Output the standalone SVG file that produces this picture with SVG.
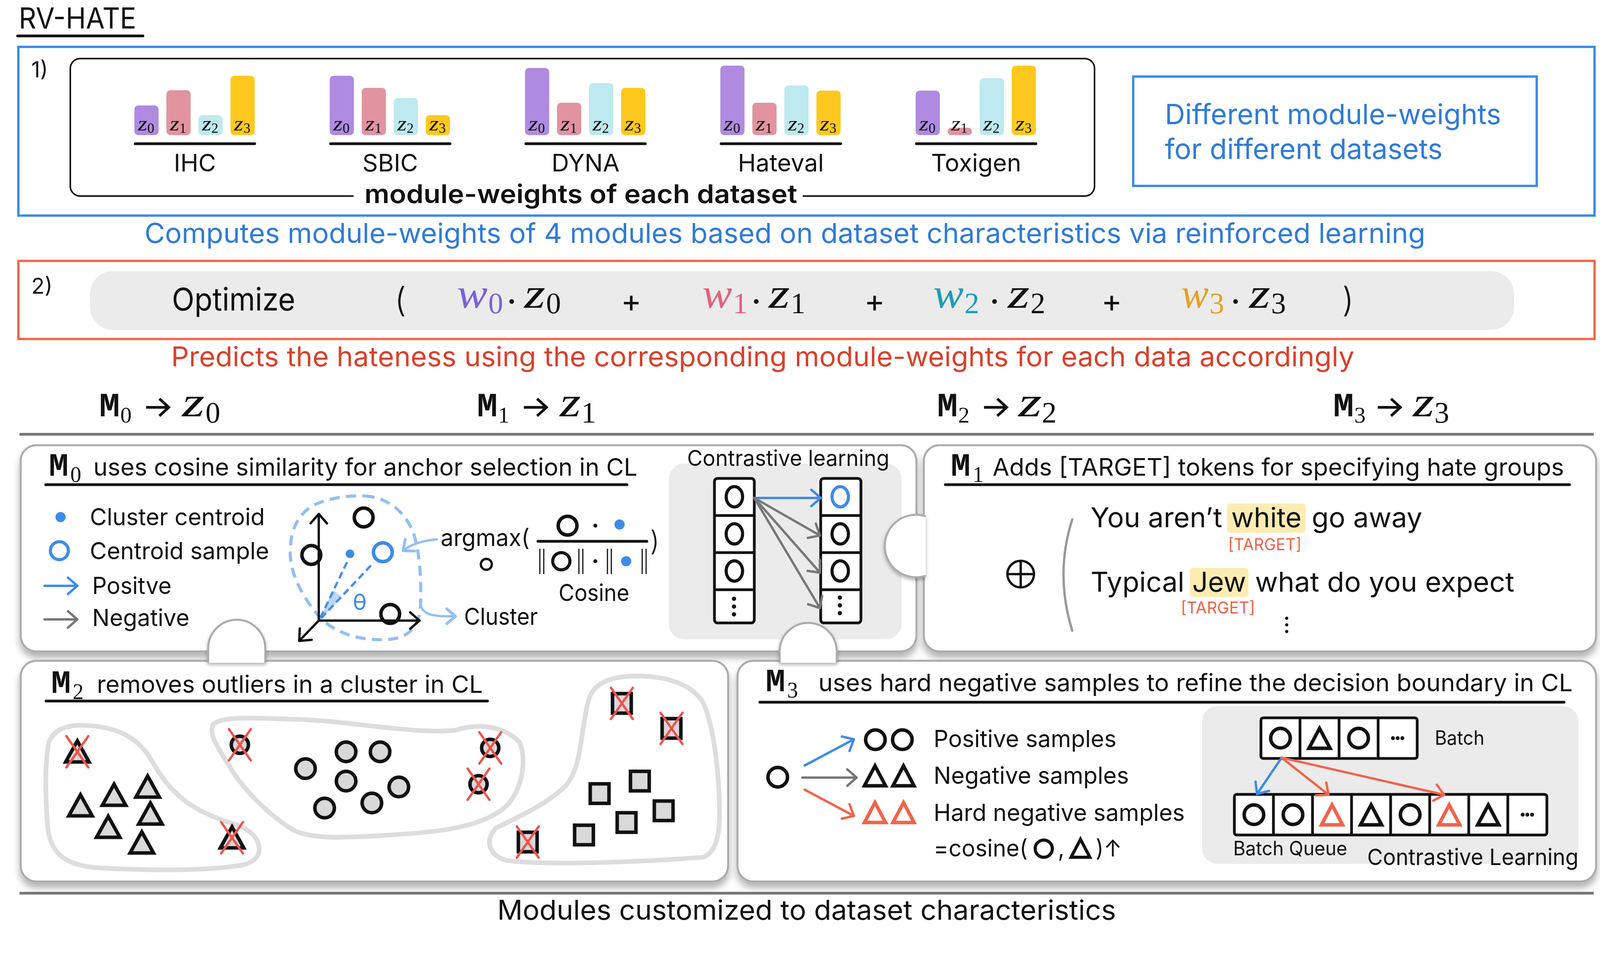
<svg xmlns="http://www.w3.org/2000/svg" width="4140" height="2476" viewBox="0 0 4140 2476">
<style>
.t{font-family:Inter,'Liberation Sans',sans-serif;fill:#111}
.mi{font-family:'Liberation Serif',serif;font-style:italic;fill:#111}
.mr{font-family:'Liberation Serif',serif;fill:#111}
.tt{font-family:'Liberation Mono',monospace;font-weight:bold;fill:#111}
.panel{fill:#fff;stroke:#ABABAB;stroke-width:5}
.ring{fill:#fff;stroke:#111;stroke-width:9}
.gshape{fill:#D9D9D9;stroke:#111;stroke-width:9;stroke-linejoin:miter}
.wtri{fill:#fff;stroke:#111;stroke-width:9}
.rtri{fill:#fff;stroke:#F0644B;stroke-width:9}
.x{stroke:#F0524F;stroke-width:6;stroke-linecap:round;fill:none}
.ul{stroke:#111;stroke-width:7;stroke-linecap:round}
.b0{fill:#AE8BE0}.b1{fill:#E194A0}.b2{fill:#BEE9EE}.b3{fill:#FEC81F}
.cell{fill:#fff;stroke:#111;stroke-width:7}
.conn{fill:none;stroke-width:6;stroke-linecap:round}
</style>
<defs>
<filter id="sh" x="-5%" y="-10%" width="110%" height="130%">
<feDropShadow dx="0" dy="14" stdDeviation="9" flood-color="#000" flood-opacity="0.3"/>
</filter>
<filter id="sh2" x="-30%" y="-30%" width="160%" height="160%">
<feDropShadow dx="0" dy="5" stdDeviation="5" flood-color="#000" flood-opacity="0.3"/>
</filter>
<marker id="hb" markerUnits="userSpaceOnUse" markerWidth="10" markerHeight="10" refX="0" refY="0" orient="auto" overflow="visible"><path d="M-24,-21 L0,0 L-24,21" fill="none" stroke="#3D8BE8" stroke-width="6" stroke-linecap="round" stroke-linejoin="round"/></marker>
<marker id="hg" markerUnits="userSpaceOnUse" markerWidth="10" markerHeight="10" refX="0" refY="0" orient="auto" overflow="visible"><path d="M-24,-21 L0,0 L-24,21" fill="none" stroke="#777" stroke-width="6" stroke-linecap="round" stroke-linejoin="round"/></marker>
<marker id="hr" markerUnits="userSpaceOnUse" markerWidth="10" markerHeight="10" refX="0" refY="0" orient="auto" overflow="visible"><path d="M-24,-21 L0,0 L-24,21" fill="none" stroke="#F0644B" stroke-width="6" stroke-linecap="round" stroke-linejoin="round"/></marker>
<marker id="hk" markerUnits="userSpaceOnUse" markerWidth="10" markerHeight="10" refX="0" refY="0" orient="auto" overflow="visible"><path d="M-24,-21 L0,0 L-24,21" fill="none" stroke="#111" stroke-width="6" stroke-linecap="round" stroke-linejoin="round"/></marker>
<marker id="hl" markerUnits="userSpaceOnUse" markerWidth="10" markerHeight="10" refX="0" refY="0" orient="auto" overflow="visible"><path d="M-22,-19 L0,0 L-22,19" fill="none" stroke="#93BFF2" stroke-width="7" stroke-linecap="round" stroke-linejoin="round"/></marker>
<path id="tri" d="M0,-30 L30,24 L-30,24 Z"/>
<path id="tri2" d="M0,-27 L27,24 L-27,24 Z"/>
<rect id="sq" x="-24" y="-25" width="48" height="50"/>
<path id="xm" d="M-28,-40 L28,40 M28,-40 L-28,40"/>
</defs>

<rect width="4140" height="2476" fill="#fff"/>

<g id="title">
<text class="t" x="48" y="73" font-size="74" textLength="301" lengthAdjust="spacingAndGlyphs">RV-HATE</text>
<line x1="45" y1="92" x2="366" y2="92" class="ul"/>
</g>

<g id="stage1">
<rect x="47" y="120" width="4035" height="432" fill="none" stroke="#3D8BE8" stroke-width="6"/>
<text class="t" x="80" y="198" font-size="56">1)</text>
<path d="M 905 502 L 205 502 A 25 25 0 0 1 180 477 L 180 175 A 25 25 0 0 1 205 150 L 2777 150 A 25 25 0 0 1 2802 175 L 2802 477 A 25 25 0 0 1 2777 502 L 2055 502" fill="none" stroke="#111" stroke-width="4"/>
<text class="t" x="933" y="520" font-size="66" font-weight="600" textLength="1108" lengthAdjust="spacingAndGlyphs">module-weights of each dataset</text>

<g id="bars-ihc">
<rect class="b0" x="344" y="270" width="62" height="76" rx="10"/>
<rect class="b1" x="426" y="231" width="62" height="115" rx="10"/>
<rect class="b2" x="508" y="295" width="62" height="51" rx="10"/>
<rect class="b3" x="590" y="194" width="62" height="152" rx="10"/>
<text class="mi" x="353" y="334" font-size="52" textLength="24" lengthAdjust="spacingAndGlyphs">z</text><text class="mr" x="377" y="340" font-size="36">0</text>
<text class="mi" x="435" y="334" font-size="52" textLength="24" lengthAdjust="spacingAndGlyphs">z</text><text class="mr" x="459" y="340" font-size="36">1</text>
<text class="mi" x="517" y="334" font-size="52" textLength="24" lengthAdjust="spacingAndGlyphs">z</text><text class="mr" x="541" y="340" font-size="36">2</text>
<text class="mi" x="599" y="334" font-size="52" textLength="24" lengthAdjust="spacingAndGlyphs">z</text><text class="mr" x="623" y="340" font-size="36">3</text>
<line x1="346" y1="368" x2="652" y2="368" class="ul"/>
<text class="t" x="499" y="439" font-size="62" text-anchor="middle">IHC</text>
</g>
<g id="bars-sbic">
<rect class="b0" x="844" y="194" width="62" height="152" rx="10"/>
<rect class="b1" x="926" y="225" width="62" height="121" rx="10"/>
<rect class="b2" x="1008" y="251" width="62" height="95" rx="10"/>
<rect class="b3" x="1090" y="295" width="62" height="51" rx="10"/>
<text class="mi" x="853" y="334" font-size="52" textLength="24" lengthAdjust="spacingAndGlyphs">z</text><text class="mr" x="877" y="340" font-size="36">0</text>
<text class="mi" x="935" y="334" font-size="52" textLength="24" lengthAdjust="spacingAndGlyphs">z</text><text class="mr" x="959" y="340" font-size="36">1</text>
<text class="mi" x="1017" y="334" font-size="52" textLength="24" lengthAdjust="spacingAndGlyphs">z</text><text class="mr" x="1041" y="340" font-size="36">2</text>
<text class="mi" x="1099" y="334" font-size="52" textLength="24" lengthAdjust="spacingAndGlyphs">z</text><text class="mr" x="1123" y="340" font-size="36">3</text>
<line x1="846" y1="368" x2="1152" y2="368" class="ul"/>
<text class="t" x="999" y="439" font-size="62" text-anchor="middle">SBIC</text>
</g>
<g id="bars-dyna">
<rect class="b0" x="1344" y="174" width="62" height="172" rx="10"/>
<rect class="b1" x="1426" y="263" width="62" height="83" rx="10"/>
<rect class="b2" x="1508" y="213" width="62" height="133" rx="10"/>
<rect class="b3" x="1590" y="225" width="62" height="121" rx="10"/>
<text class="mi" x="1353" y="334" font-size="52" textLength="24" lengthAdjust="spacingAndGlyphs">z</text><text class="mr" x="1377" y="340" font-size="36">0</text>
<text class="mi" x="1435" y="334" font-size="52" textLength="24" lengthAdjust="spacingAndGlyphs">z</text><text class="mr" x="1459" y="340" font-size="36">1</text>
<text class="mi" x="1517" y="334" font-size="52" textLength="24" lengthAdjust="spacingAndGlyphs">z</text><text class="mr" x="1541" y="340" font-size="36">2</text>
<text class="mi" x="1599" y="334" font-size="52" textLength="24" lengthAdjust="spacingAndGlyphs">z</text><text class="mr" x="1623" y="340" font-size="36">3</text>
<line x1="1346" y1="368" x2="1652" y2="368" class="ul"/>
<text class="t" x="1499" y="439" font-size="62" text-anchor="middle">DYNA</text>
</g>
<g id="bars-hateval">
<rect class="b0" x="1844" y="168" width="62" height="178" rx="10"/>
<rect class="b1" x="1926" y="263" width="62" height="83" rx="10"/>
<rect class="b2" x="2008" y="219" width="62" height="127" rx="10"/>
<rect class="b3" x="2090" y="232" width="62" height="114" rx="10"/>
<text class="mi" x="1853" y="334" font-size="52" textLength="24" lengthAdjust="spacingAndGlyphs">z</text><text class="mr" x="1877" y="340" font-size="36">0</text>
<text class="mi" x="1935" y="334" font-size="52" textLength="24" lengthAdjust="spacingAndGlyphs">z</text><text class="mr" x="1959" y="340" font-size="36">1</text>
<text class="mi" x="2017" y="334" font-size="52" textLength="24" lengthAdjust="spacingAndGlyphs">z</text><text class="mr" x="2041" y="340" font-size="36">2</text>
<text class="mi" x="2099" y="334" font-size="52" textLength="24" lengthAdjust="spacingAndGlyphs">z</text><text class="mr" x="2123" y="340" font-size="36">3</text>
<line x1="1846" y1="368" x2="2152" y2="368" class="ul"/>
<text class="t" x="1999" y="439" font-size="62" text-anchor="middle">Hateval</text>
</g>
<g id="bars-toxigen">
<rect class="b0" x="2344" y="232" width="62" height="114" rx="10"/>
<rect class="b1" x="2426" y="327" width="62" height="19" rx="9"/>
<rect class="b2" x="2508" y="200" width="62" height="146" rx="10"/>
<rect class="b3" x="2590" y="168" width="62" height="178" rx="10"/>
<text class="mi" x="2353" y="334" font-size="52" textLength="24" lengthAdjust="spacingAndGlyphs">z</text><text class="mr" x="2377" y="340" font-size="36">0</text>
<text class="mi" x="2435" y="334" font-size="52" textLength="24" lengthAdjust="spacingAndGlyphs">z</text><text class="mr" x="2459" y="340" font-size="36">1</text>
<text class="mi" x="2517" y="334" font-size="52" textLength="24" lengthAdjust="spacingAndGlyphs">z</text><text class="mr" x="2541" y="340" font-size="36">2</text>
<text class="mi" x="2599" y="334" font-size="52" textLength="24" lengthAdjust="spacingAndGlyphs">z</text><text class="mr" x="2623" y="340" font-size="36">3</text>
<line x1="2346" y1="368" x2="2652" y2="368" class="ul"/>
<text class="t" x="2499" y="439" font-size="62" text-anchor="middle">Toxigen</text>
</g>

<g id="weights-note">
<rect x="2901" y="196" width="1033" height="280" fill="none" stroke="#3D8BE8" stroke-width="6"/>
<text class="t" x="2982" y="318" font-size="72" style="fill:#2F7BD7" textLength="861" lengthAdjust="spacingAndGlyphs">Different module-weights</text>
<text class="t" x="2982" y="407" font-size="72" style="fill:#2F7BD7" textLength="711" lengthAdjust="spacingAndGlyphs">for different datasets</text>
</g>
<text class="t" x="370" y="622" font-size="70" style="fill:#2F7BD7" textLength="3279" lengthAdjust="spacingAndGlyphs">Computes module-weights of 4 modules based on dataset characteristics via reinforced learning</text>
</g>

<g id="stage2">
<rect x="47" y="668" width="4035" height="200" fill="none" stroke="#F26A4B" stroke-width="6"/>
<rect x="230" y="694" width="3646" height="151" rx="60" fill="#EBEBEB"/>
<text class="t" x="80" y="752" font-size="56">2)</text>
<text class="t" x="440" y="795" font-size="80" textLength="316" lengthAdjust="spacingAndGlyphs">Optimize</text>
<text class="t" x="1010" y="798" font-size="86" font-weight="300">(</text>
<text class="t" x="3436" y="798" font-size="86" font-weight="300">)</text>
<g id="term0">
<text class="mi" x="1170" y="788" font-size="108" style="fill:#7B61D9" textLength="78" lengthAdjust="spacingAndGlyphs">w</text>
<text class="mr" x="1250" y="802" font-size="76" style="fill:#7B61D9">0</text>
<circle cx="1310" cy="772" r="6" fill="#111"/>
<text class="mi" x="1342" y="788" font-size="108" textLength="54" lengthAdjust="spacingAndGlyphs">z</text>
<text class="mr" x="1398" y="802" font-size="76">0</text>
</g>
<text class="t" x="1616" y="799" font-size="80" text-anchor="middle">+</text>
<g id="term1">
<text class="mi" x="1798" y="788" font-size="108" style="fill:#E0627F" textLength="76" lengthAdjust="spacingAndGlyphs">w</text>
<text class="mr" x="1876" y="802" font-size="76" style="fill:#E0627F">1</text>
<circle cx="1936" cy="772" r="6" fill="#111"/>
<text class="mi" x="1968" y="788" font-size="108" textLength="54" lengthAdjust="spacingAndGlyphs">z</text>
<text class="mr" x="2024" y="802" font-size="76">1</text>
</g>
<text class="t" x="2239" y="799" font-size="80" text-anchor="middle">+</text>
<g id="term2">
<text class="mi" x="2389" y="788" font-size="108" style="fill:#1A9EB4" textLength="78" lengthAdjust="spacingAndGlyphs">w</text>
<text class="mr" x="2469" y="802" font-size="76" style="fill:#1A9EB4">2</text>
<circle cx="2546" cy="772" r="6" fill="#111"/>
<text class="mi" x="2580" y="788" font-size="108" textLength="56" lengthAdjust="spacingAndGlyphs">z</text>
<text class="mr" x="2638" y="802" font-size="76">2</text>
</g>
<text class="t" x="2846" y="799" font-size="80" text-anchor="middle">+</text>
<g id="term3">
<text class="mi" x="3024" y="788" font-size="108" style="fill:#E5A024" textLength="70" lengthAdjust="spacingAndGlyphs">w</text>
<text class="mr" x="3096" y="802" font-size="76" style="fill:#E5A024">3</text>
<circle cx="3163" cy="772" r="6" fill="#111"/>
<text class="mi" x="3198" y="788" font-size="108" textLength="54" lengthAdjust="spacingAndGlyphs">z</text>
<text class="mr" x="3254" y="802" font-size="76">3</text>
</g>
<text class="t" x="438" y="938" font-size="70" style="fill:#D9412B" textLength="3029" lengthAdjust="spacingAndGlyphs">Predicts the hateness using the corresponding module-weights for each data accordingly</text>
</g>

<g id="module-row">
<text class="tt" x="254" y="1066" font-size="88">M</text><text class="mr" x="308" y="1082" font-size="58">0</text>
<path d="M 374 1043 H 430 M 408 1021 L 432 1043 L 408 1065" stroke="#111" stroke-width="7" fill="none"/>
<text class="mi" x="466" y="1066" font-size="108" textLength="58" lengthAdjust="spacingAndGlyphs">z</text><text class="mr" x="526" y="1082" font-size="76">0</text>

<text class="tt" x="1221" y="1066" font-size="88">M</text><text class="mr" x="1275" y="1082" font-size="58">1</text>
<path d="M 1341 1043 H 1397 M 1375 1021 L 1399 1043 L 1375 1065" stroke="#111" stroke-width="7" fill="none"/>
<text class="mi" x="1433" y="1066" font-size="108" textLength="54" lengthAdjust="spacingAndGlyphs">z</text><text class="mr" x="1488" y="1082" font-size="76">1</text>

<text class="tt" x="2399" y="1066" font-size="88">M</text><text class="mr" x="2453" y="1082" font-size="58">2</text>
<path d="M 2519 1043 H 2575 M 2553 1021 L 2577 1043 L 2553 1065" stroke="#111" stroke-width="7" fill="none"/>
<text class="mi" x="2607" y="1066" font-size="108" textLength="60" lengthAdjust="spacingAndGlyphs">z</text><text class="mr" x="2667" y="1082" font-size="76">2</text>

<text class="tt" x="3413" y="1066" font-size="88">M</text><text class="mr" x="3467" y="1082" font-size="58">3</text>
<path d="M 3527 1043 H 3583 M 3561 1021 L 3585 1043 L 3561 1065" stroke="#111" stroke-width="7" fill="none"/>
<text class="mi" x="3617" y="1066" font-size="108" textLength="55" lengthAdjust="spacingAndGlyphs">z</text><text class="mr" x="3672" y="1082" font-size="76">3</text>
</g>

<line x1="50" y1="1112" x2="4080" y2="1112" stroke="#777" stroke-width="7"/>
<line x1="50" y1="2287" x2="4080" y2="2287" stroke="#777" stroke-width="7"/>

<g id="panels" filter="url(#sh)">
<rect class="panel" x="53" y="1140" width="2293" height="528" rx="40"/>
<rect class="panel" x="2365" y="1140" width="1721" height="528" rx="40"/>
<rect class="panel" x="53" y="1692" width="1811" height="565" rx="40"/>
<rect class="panel" x="1888" y="1692" width="2198" height="565" rx="40"/>
</g>
<rect x="1712" y="1187" width="596" height="450" rx="40" fill="#EBEBEB"/>
<g id="tabs" filter="url(#sh2)">
<path class="panel" d="M 2370 1322 A 80 80 0 1 0 2370 1474"/>
<path class="panel" d="M 533 1697 L 533 1660 A 73 73 0 0 1 679 1660 L 679 1697"/>
<path class="panel" d="M 1996 1697 L 1996 1668 A 73 73 0 0 1 2142 1668 L 2142 1697"/>
</g>

<g id="m0-panel">
<text class="tt" x="125" y="1218" font-size="84">M</text><text class="mr" x="180" y="1234" font-size="56">0</text>
<text class="t" x="239" y="1218" font-size="62" textLength="1393" lengthAdjust="spacingAndGlyphs">uses cosine similarity for anchor selection in CL</text>
<line x1="117" y1="1241" x2="1605" y2="1241" class="ul"/>
<circle cx="155" cy="1324" r="13" fill="#3D8BE8"/>
<text class="t" x="230" y="1345" font-size="60" textLength="448" lengthAdjust="spacingAndGlyphs">Cluster centroid</text>
<circle cx="152" cy="1410" r="23" fill="none" stroke="#3D8BE8" stroke-width="8"/>
<text class="t" x="230" y="1432" font-size="60" textLength="459" lengthAdjust="spacingAndGlyphs">Centroid sample</text>
<text class="t" x="236" y="1521" font-size="60" textLength="203" lengthAdjust="spacingAndGlyphs">Positve</text>
<text class="t" x="236" y="1603" font-size="60" textLength="249" lengthAdjust="spacingAndGlyphs">Negative</text>
<path d="M 816 1589 L 876 1530 A 85 85 0 0 0 852 1512 Z" fill="#BCD6F7"/>
<path d="M 933 1270 C 990 1272 1040 1310 1060 1370 C 1075 1420 1078 1480 1077 1540 C 1077 1600 1050 1636 985 1638 C 900 1640 840 1610 810 1570 C 770 1520 745 1470 743 1420 C 742 1360 760 1320 800 1295 C 840 1275 890 1268 933 1270 Z" fill="none" stroke="#93BFF2" stroke-width="8" stroke-dasharray="26 16"/>
<line x1="820" y1="1582" x2="892" y2="1432" stroke="#4A8FE7" stroke-width="6" stroke-dasharray="18 10"/>
<line x1="822" y1="1583" x2="957" y2="1440" stroke="#4A8FE7" stroke-width="6" stroke-dasharray="18 10"/>
<text class="t" x="921" y="1562" font-size="58" text-anchor="middle" style="fill:#3D8BE8">θ</text>
<circle class="ring" cx="931" cy="1325" r="24"/>
<circle class="ring" cx="797" cy="1421" r="24"/>
<circle class="ring" cx="999" cy="1572" r="24"/>
<circle cx="896" cy="1418" r="11" fill="#3D8BE8"/>
<circle cx="980" cy="1414" r="24" fill="#fff" stroke="#3D8BE8" stroke-width="9"/>
<text class="t" x="1128" y="1398" font-size="60" textLength="228" lengthAdjust="spacingAndGlyphs">argmax(</text>
<circle cx="1245" cy="1445" r="14" fill="none" stroke="#111" stroke-width="6"/>
<circle class="ring" cx="1453" cy="1346" r="24"/>
<circle cx="1524" cy="1346" r="5" fill="#111"/>
<circle cx="1586" cy="1343" r="13" fill="#3D8BE8"/>
<line x1="1377" y1="1386" x2="1656" y2="1386" stroke="#111" stroke-width="7" stroke-linecap="round"/>
<path d="M1382 1405 V1470 M1392 1405 V1470 M1482 1405 V1470 M1492 1405 V1470 M1555 1405 V1470 M1565 1405 V1470 M1644 1405 V1470 M1654 1405 V1470" stroke="#111" stroke-width="3"/>
<circle cx="1437" cy="1437" r="22" fill="#fff" stroke="#111" stroke-width="8"/>
<circle cx="1524" cy="1437" r="5" fill="#111"/>
<circle cx="1603" cy="1437" r="13" fill="#3D8BE8"/>
<text class="t" x="1664" y="1410" font-size="70" font-weight="300">)</text>
<text class="t" x="1430" y="1539" font-size="60" textLength="181" lengthAdjust="spacingAndGlyphs">Cosine</text>
<text class="t" x="1188" y="1600" font-size="60" textLength="189" lengthAdjust="spacingAndGlyphs">Cluster</text>
</g>

<g id="contrastive">
<text class="t" x="1759" y="1193" font-size="56" textLength="518" lengthAdjust="spacingAndGlyphs">Contrastive learning</text>
<rect class="cell" x="1829" y="1225" width="102" height="370" rx="8"/>
<path d="M1829 1320 H1931 M1829 1415 H1931 M1829 1510 H1931" stroke="#111" stroke-width="7"/>
<ellipse cx="1880" cy="1272" rx="21" ry="26" fill="none" stroke="#111" stroke-width="8"/>
<ellipse cx="1880" cy="1367" rx="21" ry="26" fill="none" stroke="#111" stroke-width="8"/>
<ellipse cx="1880" cy="1462" rx="21" ry="26" fill="none" stroke="#111" stroke-width="8"/>
<circle cx="1879" cy="1533" r="5.5" fill="#111"/><circle cx="1879" cy="1553" r="5.5" fill="#111"/><circle cx="1879" cy="1573" r="5.5" fill="#111"/>
<rect class="cell" x="2101" y="1225" width="103" height="370" rx="8"/>
<path d="M2101 1320 H2204 M2101 1415 H2204 M2101 1510 H2204" stroke="#111" stroke-width="7"/>
<ellipse cx="2151" cy="1272" rx="21" ry="26" fill="none" stroke="#3D8BE8" stroke-width="8"/>
<ellipse cx="2151" cy="1367" rx="21" ry="26" fill="none" stroke="#111" stroke-width="8"/>
<ellipse cx="2151" cy="1462" rx="21" ry="26" fill="none" stroke="#111" stroke-width="8"/>
<circle cx="2150" cy="1530" r="5.5" fill="#111"/><circle cx="2150" cy="1550" r="5.5" fill="#111"/><circle cx="2150" cy="1570" r="5.5" fill="#111"/>
</g>

<g id="m1-panel">
<text class="tt" x="2434" y="1218" font-size="84">M</text><text class="mr" x="2490" y="1234" font-size="56">1</text>
<text class="t" x="2541" y="1218" font-size="62" textLength="1463" lengthAdjust="spacingAndGlyphs">Adds [TARGET] tokens for specifying hate groups</text>
<line x1="2420" y1="1241" x2="4018" y2="1241" class="ul"/>
<circle cx="2613" cy="1470" r="34" fill="none" stroke="#111" stroke-width="6"/>
<path d="M2579 1470 H2647 M2613 1436 V1504" stroke="#111" stroke-width="6"/>
<path d="M 2745 1330 Q 2700 1470 2745 1615" fill="none" stroke="#999" stroke-width="6" stroke-linecap="round"/>
<rect x="3141" y="1289" width="201" height="75" rx="8" fill="#FDECB2"/>
<rect x="3046" y="1454" width="150" height="75" rx="8" fill="#FDECB2"/>
<text class="t" x="2792" y="1350" font-size="70" textLength="337" lengthAdjust="spacingAndGlyphs">You aren’t</text>
<text class="t" x="3152" y="1350" font-size="70" textLength="180" lengthAdjust="spacingAndGlyphs">white</text>
<text class="t" x="3358" y="1350" font-size="70" textLength="283" lengthAdjust="spacingAndGlyphs">go away</text>
<text class="t" x="3144" y="1409" font-size="42" style="fill:#F0644B" textLength="188" lengthAdjust="spacingAndGlyphs">[TARGET]</text>
<text class="t" x="2792" y="1515" font-size="70" textLength="240" lengthAdjust="spacingAndGlyphs">Typical</text>
<text class="t" x="3052" y="1515" font-size="70" textLength="138" lengthAdjust="spacingAndGlyphs">Jew</text>
<text class="t" x="3213" y="1515" font-size="70" textLength="664" lengthAdjust="spacingAndGlyphs">what do you expect</text>
<text class="t" x="3023" y="1571" font-size="42" style="fill:#F0644B" textLength="190" lengthAdjust="spacingAndGlyphs">[TARGET]</text>
<circle cx="3294" cy="1583" r="4" fill="#111"/><circle cx="3294" cy="1600" r="4" fill="#111"/><circle cx="3294" cy="1617" r="4" fill="#111"/>
</g>

<g id="m2-panel">
<text class="tt" x="131" y="1774" font-size="84">M</text><text class="mr" x="186" y="1790" font-size="56">2</text>
<text class="t" x="248" y="1774" font-size="62" textLength="988" lengthAdjust="spacingAndGlyphs">removes outliers in a cluster in CL</text>
<line x1="118" y1="1795" x2="1248" y2="1795" class="ul"/>
<path d="M 212 1857 C 290 1860 350 1880 390 1950 C 440 2040 500 2080 600 2110 C 670 2130 690 2200 620 2215 C 520 2232 360 2228 250 2222 C 160 2215 125 2180 121 2106 C 116 2030 115 1950 125 1900 C 140 1865 175 1856 212 1857 Z" fill="none" stroke="#DDD" stroke-width="12"/>
<path d="M 545 1857 C 560 1830 680 1840 760 1842 C 900 1846 1050 1880 1164 1870 C 1230 1850 1290 1860 1330 1900 C 1350 1950 1335 2020 1300 2060 C 1240 2120 1120 2130 1000 2138 C 880 2145 800 2150 750 2125 C 680 2080 620 2020 580 1950 C 555 1910 535 1880 545 1857 Z" fill="none" stroke="#DDD" stroke-width="12"/>
<path d="M 1636 1731 C 1560 1730 1515 1750 1505 1800 C 1485 1880 1490 1960 1450 2010 C 1400 2060 1330 2090 1270 2120 C 1240 2150 1250 2190 1297 2203 C 1380 2215 1600 2210 1800 2195 C 1840 2180 1843 2120 1842 2065 C 1840 1980 1830 1880 1805 1810 C 1785 1760 1720 1732 1636 1731 Z" fill="none" stroke="#DDD" stroke-width="12"/>
<use href="#tri" class="gshape" x="206" y="2065"/>
<use href="#tri" class="gshape" x="292" y="2038"/>
<use href="#tri" class="gshape" x="378" y="2017"/>
<use href="#tri" class="gshape" x="277" y="2120"/>
<use href="#tri" class="gshape" x="385" y="2086"/>
<use href="#tri" class="gshape" x="363" y="2160"/>
<use href="#tri" class="gshape" x="198" y="1927"/>
<use href="#xm" class="x" x="198" y="1925"/>
<use href="#tri" class="gshape" x="594" y="2147"/>
<use href="#xm" class="x" x="594" y="2145"/>
<circle class="gshape" cx="782" cy="1968" r="25"/>
<circle class="gshape" cx="886" cy="1925" r="25"/>
<circle class="gshape" cx="973" cy="1925" r="25"/>
<circle class="gshape" cx="886" cy="2000" r="25"/>
<circle class="gshape" cx="1021" cy="2015" r="25"/>
<circle class="gshape" cx="831" cy="2069" r="25"/>
<circle class="gshape" cx="952" cy="2056" r="25"/>
<circle class="gshape" cx="614" cy="1907" r="22"/>
<use href="#xm" class="x" x="614" y="1907"/>
<circle class="gshape" cx="1255" cy="1915" r="22"/>
<use href="#xm" class="x" x="1255" y="1915"/>
<circle class="gshape" cx="1225" cy="2008" r="22"/>
<use href="#xm" class="x" x="1225" y="2008"/>
<use href="#sq" class="gshape" x="1535" y="2032"/>
<use href="#sq" class="gshape" x="1638" y="2000"/>
<use href="#sq" class="gshape" x="1604" y="2106"/>
<use href="#sq" class="gshape" x="1699" y="2076"/>
<use href="#sq" class="gshape" x="1495" y="2138"/>
<use href="#sq" class="gshape" x="1592" y="1801"/>
<use href="#xm" class="x" x="1592" y="1801"/>
<use href="#sq" class="gshape" x="1719" y="1865"/>
<use href="#xm" class="x" x="1719" y="1865"/>
<use href="#sq" class="gshape" x="1351" y="2156"/>
<use href="#xm" class="x" x="1351" y="2156"/>
</g>

<g id="m3-panel">
<text class="tt" x="1960" y="1770" font-size="84">M</text><text class="mr" x="2015" y="1786" font-size="56">3</text>
<text class="t" x="2095" y="1770" font-size="62" textLength="1931" lengthAdjust="spacingAndGlyphs">uses hard negative samples to refine the decision boundary in CL</text>
<line x1="1945" y1="1798" x2="4004" y2="1798" class="ul"/>
<circle class="ring" cx="1991" cy="1990" r="25"/>
<circle class="ring" cx="2241" cy="1894" r="25"/>
<circle class="ring" cx="2310" cy="1894" r="25"/>
<use href="#tri2" class="wtri" x="2240" y="1988"/>
<use href="#tri2" class="wtri" x="2313" y="1988"/>
<use href="#tri2" class="rtri" x="2240" y="2082"/>
<use href="#tri2" class="rtri" x="2313" y="2082"/>
<text class="t" x="2390" y="1913" font-size="60" textLength="468" lengthAdjust="spacingAndGlyphs">Positive samples</text>
<text class="t" x="2390" y="2007" font-size="60" textLength="500" lengthAdjust="spacingAndGlyphs">Negative samples</text>
<text class="t" x="2390" y="2102" font-size="60" textLength="643" lengthAdjust="spacingAndGlyphs">Hard negative samples</text>
<text class="t" x="2390" y="2193" font-size="60" textLength="241" lengthAdjust="spacingAndGlyphs">=cosine(</text>
<circle cx="2672" cy="2173" r="22" fill="#fff" stroke="#111" stroke-width="8"/>
<text class="t" x="2708" y="2193" font-size="60">,</text>
<path d="M2766 2149 L2790 2195 L2742 2195 Z" fill="#fff" stroke="#111" stroke-width="8"/>
<text class="t" x="2805" y="2193" font-size="60" textLength="67" lengthAdjust="spacingAndGlyphs">)↑</text>
<rect x="3077" y="1808" width="964" height="404" rx="40" fill="#EBEBEB"/>
<rect class="cell" x="3228" y="1838" width="400" height="104" rx="6"/>
<path d="M3328 1838 V1942 M3428 1838 V1942 M3528 1838 V1942" stroke="#111" stroke-width="7"/>
<circle class="ring" cx="3278" cy="1890" r="25"/>
<use href="#tri2" class="wtri" x="3378" y="1892"/>
<circle class="ring" cx="3478" cy="1890" r="25"/>
<circle cx="3566" cy="1890" r="5" fill="#111"/><circle cx="3578" cy="1890" r="5" fill="#111"/><circle cx="3590" cy="1890" r="5" fill="#111"/>
<text class="t" x="3673" y="1907" font-size="50" textLength="127" lengthAdjust="spacingAndGlyphs">Batch</text>
<rect class="cell" x="3160" y="2034" width="800" height="104" rx="6"/>
<path d="M3260 2034 V2138 M3360 2034 V2138 M3460 2034 V2138 M3560 2034 V2138 M3660 2034 V2138 M3760 2034 V2138 M3860 2034 V2138" stroke="#111" stroke-width="7"/>
<circle class="ring" cx="3210" cy="2086" r="25"/>
<circle class="ring" cx="3310" cy="2086" r="25"/>
<use href="#tri2" class="rtri" x="3410" y="2088"/>
<use href="#tri2" class="wtri" x="3510" y="2088"/>
<circle class="ring" cx="3610" cy="2086" r="25"/>
<use href="#tri2" class="rtri" x="3710" y="2088"/>
<use href="#tri2" class="wtri" x="3810" y="2088"/>
<circle cx="3898" cy="2086" r="5" fill="#111"/><circle cx="3910" cy="2086" r="5" fill="#111"/><circle cx="3922" cy="2086" r="5" fill="#111"/>
<text class="t" x="3157" y="2190" font-size="50" textLength="292" lengthAdjust="spacingAndGlyphs">Batch Queue</text>
<text class="t" x="3500" y="2215" font-size="58" textLength="541" lengthAdjust="spacingAndGlyphs">Contrastive Learning</text>
</g>

<g id="connectors">
<path class="conn" d="M 114 1500 H 198" stroke="#3D8BE8" marker-end="url(#hb)"/>
<path class="conn" d="M 114 1586 H 198" stroke="#777" marker-end="url(#hg)"/>
<path class="conn" d="M 816 1589 V 1316" stroke="#111" marker-end="url(#hk)"/>
<path class="conn" d="M 816 1589 H 1074" stroke="#111" marker-end="url(#hk)"/>
<path class="conn" d="M 816 1589 L 766 1641" stroke="#111" marker-end="url(#hk)"/>
<path class="conn" d="M 1118 1381 C 1082 1384 1052 1394 1032 1410" stroke="#93BFF2" stroke-width="7" marker-end="url(#hl)"/>
<path class="conn" d="M 1075 1540 C 1078 1578 1112 1578 1166 1578" stroke="#93BFF2" stroke-width="7" marker-end="url(#hl)"/>
<path class="conn" d="M 1931 1275 H 2101" stroke="#3D8BE8" marker-end="url(#hb)"/>
<path class="conn" d="M 1931 1275 L 2099 1371" stroke="#777" marker-end="url(#hg)"/>
<path class="conn" d="M 1931 1275 L 2099 1466" stroke="#777" marker-end="url(#hg)"/>
<path class="conn" d="M 1931 1275 L 2099 1557" stroke="#777" marker-end="url(#hg)"/>
<path class="conn" d="M 2060 1960 L 2186 1893" stroke="#3D8BE8" marker-end="url(#hb)"/>
<path class="conn" d="M 2054 1991 H 2193" stroke="#777" marker-end="url(#hg)"/>
<path class="conn" d="M 2060 2022 L 2186 2089" stroke="#F0644B" marker-end="url(#hr)"/>
<path class="conn" d="M 3281 1940 L 3218 2033" stroke="#3D8BE8" stroke-width="5" marker-end="url(#hb)"/>
<path class="conn" d="M 3281 1940 L 3401 2035" stroke="#F0644B" stroke-width="5" marker-end="url(#hr)"/>
<path class="conn" d="M 3281 1940 L 3697 2035" stroke="#F0644B" stroke-width="7" marker-end="url(#hr)"/>
</g>

<text class="t" x="1273" y="2355" font-size="70" textLength="1584" lengthAdjust="spacingAndGlyphs">Modules customized to dataset characteristics</text>
</svg>
